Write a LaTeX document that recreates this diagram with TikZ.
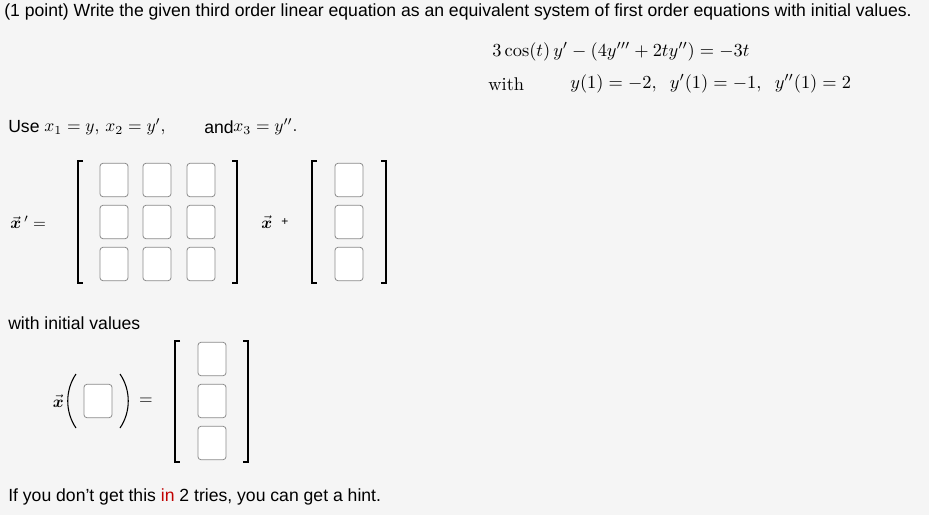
\documentclass[tikz,border=0pt]{standalone}
\usepackage{fontspec}
\setsansfont{Liberation Sans}
\usepackage{amsmath}
\begin{document}
\begin{tikzpicture}[x=0.75pt,y=-0.75pt,
  ibox/.style={draw=black!45,fill=white,rounded corners=2.2pt,minimum width=21pt,minimum height=25pt,inner sep=0pt,line width=0.6pt},
  txt/.style={anchor=west,inner sep=0pt,font=\sffamily\fontsize{13.2}{15}\selectfont},
  mth/.style={inner sep=0pt,scale=1.38,transform shape},
  brk/.style={line width=0.9pt}]
\fill[black!4] (0,0) rectangle (929,515);
\useasboundingbox (0,0) rectangle (929,515);
\node[txt] (t1) at (4,12) {(1 point) Write the given third order linear equation as an equivalent system of first order equations with initial values.};
\node[mth,anchor=west] (e1) at (492,52) {$3\cos(t)\,y'-(4y'''+2ty'')=-3t$};
\node[mth,anchor=west] (e2) at (488,84) {with};
\node[mth,anchor=west] (e3) at (570,84) {$y(1)=-2,\;\; y'(1)=-1,\;\; y''(1)=2$};
\node[txt] (u1) at (8,127) {Use};
\node[mth,anchor=west,scale=0.95] (u2) at (44,127) {$x_1=y$, $x_2=y'$,};
\node[txt] (u3) at (204,127) {and};
\node[mth,anchor=west,scale=0.95] (u4) at (233,127) {$x_3=y''$.};
\node[mth,anchor=west,scale=0.9] (xp) at (10,222) {$\vec{\boldsymbol{x}}\,'=$};
\foreach \i/\y in {1/180,2/222,3/264}{
  \foreach \j/\x in {1/114,2/157,3/201}{
    \node[ibox] (m\i\j) at (\x,\y) {};}
  \node[ibox] (b\i) at (349,\y) {};}
\draw[brk] (83,161) -- (78,161) -- (78,283) -- (83,283);
\draw[brk] (232,161) -- (237,161) -- (237,283) -- (232,283);
\draw[brk] (317,161) -- (312,161) -- (312,283) -- (317,283);
\draw[brk] (381,161) -- (386,161) -- (386,283) -- (381,283);
\node[mth,anchor=west,scale=0.9] (xv) at (261,222) {$\vec{\boldsymbol{x}}$};
\node[anchor=west,inner sep=0pt,font=\sffamily\small] (pl) at (281,222) {+};
\node[txt] (t3) at (8,323) {with initial values};
\node[mth,anchor=east,scale=0.9] (xi) at (64,401) {$\vec{\boldsymbol{x}}$};
\node[ibox] (ib) at (98,401) {};
\draw[line width=0.8pt] (76,374) .. controls (65,390) and (65,412) .. (76,428);
\draw[line width=0.8pt] (120,374) .. controls (131,390) and (131,412) .. (120,428);
\node[mth,scale=0.95] (eq) at (146,401) {$=$};
\foreach \i/\y in {1/359,2/401,3/443}{\node[ibox] (v\i) at (212,\y) {};}
\draw[brk] (180,341) -- (175,341) -- (175,462) -- (180,462);
\draw[brk] (243,341) -- (248,341) -- (248,462) -- (243,462);
\node[txt] (t4) at (8,497) {If you don't get this {\color[HTML]{C00000}in} 2 tries, you can get a hint.};
\end{tikzpicture}
\end{document}
